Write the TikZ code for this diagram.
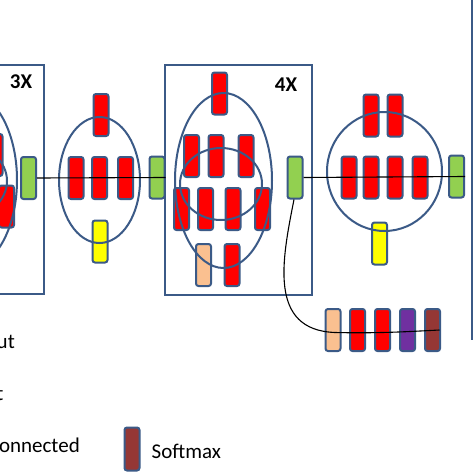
\documentclass[tikz,border=0pt]{standalone}
\usepackage{fontspec}
\setmainfont{Carlito}
\definecolor{bc}{HTML}{3B5A87}
\definecolor{cred}{HTML}{FF0000}
\definecolor{cgreen}{HTML}{92D050}
\definecolor{cyellow}{HTML}{FFFF00}
\definecolor{cpeach}{HTML}{FAC090}
\definecolor{cpurple}{HTML}{7030A0}
\definecolor{cbrown}{HTML}{953735}
\begin{document}
\begin{tikzpicture}[x=1pt,y=-1pt,
  blk/.style={draw=bc, line width=2pt, rounded corners=2.5pt, minimum width=15pt, minimum height=42pt, inner sep=0pt},
  rd/.style={blk, fill=cred},
  gr/.style={blk, fill=cgreen},
  ye/.style={blk, fill=cyellow},
  pe/.style={blk, fill=cpeach},
  pu/.style={blk, fill=cpurple},
  br/.style={blk, fill=cbrown},
  ell/.style={draw=bc, line width=2pt},
  frame/.style={draw=bc, line width=2pt},
  conn/.style={draw=black, line width=1.1pt},
  lbl/.style={font=\fontsize{21}{24}\selectfont, inner sep=0pt},
  mult/.style={font=\bfseries\fontsize{21}{24}\selectfont, inner sep=0pt}]
\useasboundingbox (0,0) rectangle (474,474);
\clip (0,0) rectangle (474,474);
\fill[white] (0,0) rectangle (474,474);

% frames
\draw[frame] (-10,65) rectangle (44,294);
\draw[frame] (165,65) rectangle (312,295);
\draw[frame] (472,-5) -- (472,340);
\node[mult] (m3) at (21,82) {3X};
\node[mult] (m4) at (286,85) {4X};

% module 1 (partly visible)
\node[rd] (a1) at (-5,155) {};
\node[rd] (a2) at (6.5,206.5) {};
\draw[ell] (-31.5,180) ellipse [x radius=48.5, y radius=87.5];
\draw[ell] (-34,181) ellipse [x radius=41, y radius=36];
\node[gr] (g1) at (28.5,178) {};

% module 2
\node[rd] (b0) at (101,115) {};
\node[rd] (b1) at (76,178) {};
\node[rd] (b2) at (99.5,178) {};
\node[rd] (b3) at (125.5,178) {};
\node[ye] (by) at (100,241.5) {};
\draw[ell] (99.5,180) ellipse [x radius=40.5, y radius=63];
\node[gr] (g2) at (157,177.5) {};

% module 3 (4X)
\node[rd] (c0) at (219.5,93.5) {};
\node[rd] (c1) at (191.5,156) {};
\node[rd] (c2) at (216,156) {};
\node[rd] (c3) at (246,156) {};
\node[rd] (c4) at (181.5,209) {};
\node[rd] (c5) at (205.5,209) {};
\node[rd] (c6) at (233,209) {};
\node[rd] (c7) at (262.5,209) {};
\node[pe] (c8) at (203.5,265) {};
\node[rd] (c9) at (232,265) {};
\draw[ell] (223.5,180.5) ellipse [x radius=48.5, y radius=87.5];
\draw[ell] (221,184) ellipse [x radius=41, y radius=36];
\node[gr] (g3) at (295,177.5) {};

% module 4
\node[rd] (d0) at (371,115.5) {};
\node[rd] (d1) at (395,115.5) {};
\node[rd] (d2) at (349,177.5) {};
\node[rd] (d3) at (371,177.5) {};
\node[rd] (d4) at (395,177.5) {};
\node[rd] (d5) at (420,177.5) {};
\node[ye] (dy) at (379.5,243.5) {};
\draw[ell] (384.5,171.5) ellipse [x radius=57.5, y radius=59.5];
\node[gr] (g4) at (456.5,176.5) {};

% classifier branch
\node[pe] (e1) at (333,330) {};
\node[rd] (e2) at (357.5,330) {};
\node[rd] (e3) at (382.5,330) {};
\node[pu] (e4) at (407.5,330) {};
\node[br] (e5) at (432.5,330) {};

% connectors
\draw[conn] (g1.east) -- (g2.east);
\draw[conn] (g3.east) -- (g4.east);
\draw[conn] ([xshift=-1pt]g3.south) .. controls (282,260) and (268,330) .. (335,332.5)
  .. controls (380,333.5) and (410,331.5) .. ([xshift=-1.5pt]e5.east);

% legend
\node[lbl, anchor=base east] (l1) at (15,348) {ut};
\node[lbl, anchor=base east] (l2) at (3.5,400) {t};
\node[lbl, anchor=base east] (l3) at (80,452) {onnected};
\node[br, minimum height=43pt] (ls) at (132,449) {};
\node[lbl, anchor=base west] (l4) at (151.5,458) {Softmax};
\end{tikzpicture}
\end{document}
